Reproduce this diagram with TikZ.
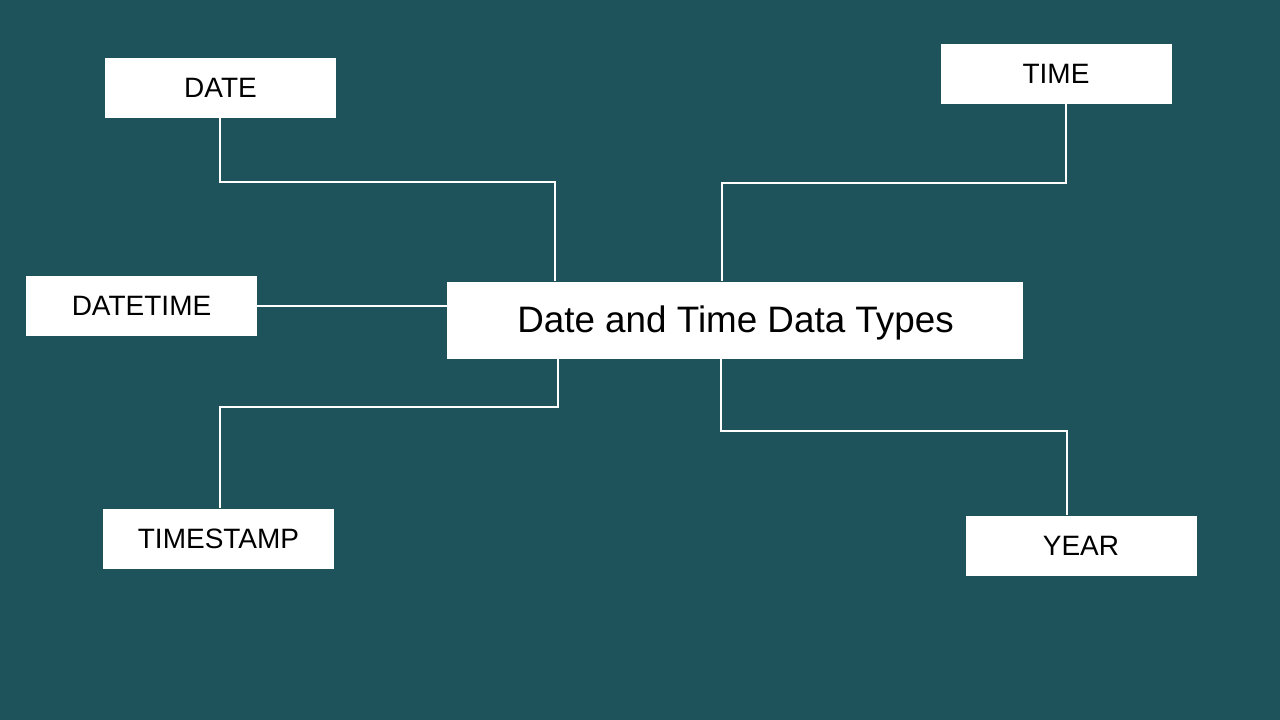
\documentclass[tikz,border=0pt]{standalone}
\usepackage{fontspec}
\setmainfont{Liberation Sans}
\definecolor{bg}{HTML}{1F535B}
\begin{document}
\begin{tikzpicture}[x=1pt,y=-1pt,
  box/.style={draw=none,fill=white,inner sep=0pt,text=black,font=\fontsize{28}{33}\selectfont},
  conn/.style={draw=white,line width=2pt}]
\fill[bg] (0,0) rectangle (1280,720);
\useasboundingbox (0,0) rectangle (1280,720);
\node[box,minimum width=231pt,minimum height=60pt] (date) at (220.5,88) {DATE};
\node[box,minimum width=231pt,minimum height=60pt] (time) at (1056,73.5) {TIME};
\node[box,minimum width=231pt,minimum height=60pt] (datetime) at (141.5,306) {DATETIME};
\node[box,minimum width=231pt,minimum height=60pt] (timestamp) at (218.5,538.5) {TIMESTAMP};
\node[box,minimum width=231pt,minimum height=60pt] (year) at (1081,545.5) {YEAR};
\node[box,minimum width=576pt,minimum height=77pt] (main) at (735,320) {};
\node[font=\fontsize{36.8}{43}\selectfont,inner sep=0pt,text=black] (maintext) at (735.5,322.5) {Date and Time Data Types};
\draw[conn] (date.south -| 220,0) |- (555,182) -- (main.north -| 555,0);
\draw[conn] (time.south -| 1066,0) |- (722,183) -- (main.north -| 722,0);
\draw[conn] (datetime.east) -- (main.west |- datetime.east);
\draw[conn] (main.south -| 558,0) |- (220,407) -- (timestamp.north -| 220,0);
\draw[conn] (main.south -| 721,0) |- (1067,431) -- (year.north -| 1067,0);
\end{tikzpicture}
\end{document}
